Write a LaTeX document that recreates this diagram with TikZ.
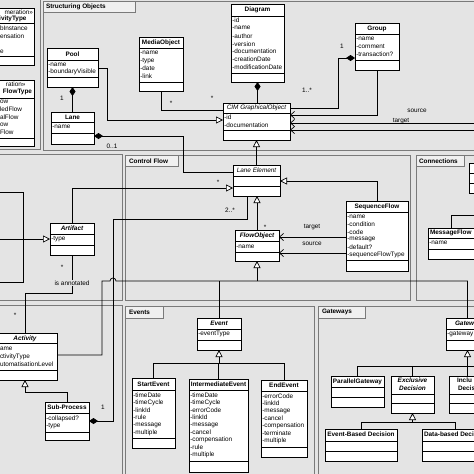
\documentclass[tikz,border=0pt]{standalone}
\usepackage{fontspec}
\setmainfont{Liberation Sans}
\usetikzlibrary{arrows.meta,fit}
\definecolor{bgc}{HTML}{E4E4E4}
\definecolor{pkg}{HTML}{7A7A7A}
\definecolor{tabc}{HTML}{F0F0F0}
\newcommand\cls[5]{\coordinate (#1-nw) at (#2,#3); \coordinate (#1-se) at (#4,#5); \node[clsbox, fit=(#1-nw)(#1-se)] (#1) {};}
\newcommand\hsep[3]{\draw[clsline] (#1,#3) -- (#2,#3);}
\newcommand\attlist[5]{\foreach \t [count=\i] in {#5} {\node[att] (#1-a\i) at (#2,{#3+(\i-1)*#4}) {\t};}}
\begin{document}
\begin{tikzpicture}[x=1pt,y=-1pt,
  every node/.style={inner sep=0pt, outer sep=0pt, font=\fontsize{6.4}{7.6}\selectfont},
  clsbox/.style={draw=black, line width=0.7pt, fill=white, inner sep=0pt},
  clsline/.style={draw=black, line width=0.6pt},
  hdr/.style={font=\fontsize{6.4}{7.6}\selectfont\bfseries},
  ihdr/.style={font=\fontsize{6.4}{7.6}\selectfont\bfseries\itshape},
  rhdr/.style={font=\fontsize{6.4}{7.6}\selectfont\itshape},
  att/.style={anchor=west},
  pkgbox/.style={draw=pkg, line width=1pt},
  tab/.style={draw=pkg, line width=0.8pt, fill=tabc},
  conn/.style={draw=black, line width=0.7pt},
  gen/.style={conn, -{Triangle[open, length=7pt, width=7pt, fill=white]}},
  comp/.style={conn, {Diamond[length=9pt, width=6pt]}-},
  assoc/.style={conn, -{Straight Barb[length=4pt, width=7pt]}},
]
\useasboundingbox (0,0) rectangle (474,474);
\fill[bgc] (0,0) rectangle (474,474);
% packages
\draw[pkgbox] (-5,-5) rectangle (40,149);
\draw[pkgbox] (43,1) rectangle (480,150);
\draw[pkgbox] (-5,154) rectangle (122,300);
\draw[pkgbox] (125,155) rectangle (410,300);
\draw[pkgbox] (416,155) rectangle (480,300);
\draw[pkgbox] (-5,305) rectangle (122,480);
\draw[pkgbox] (125,306) rectangle (314,480);
\draw[pkgbox] (318,306) rectangle (480,480);
% tabs
\draw[tab] (43,1) rectangle (135,12);
\node[hdr, anchor=west] (tSO) at (46,6.8) {Structuring Objects};
\draw[tab] (125,155) rectangle (178,166);
\node[hdr, anchor=west] (tCF) at (129,160.8) {Control Flow};
\draw[tab] (416,155) rectangle (464,166);
\node[hdr, anchor=west] (tCO) at (419,160.8) {Connections};
\draw[tab] (125,306) rectangle (163,318);
\node[hdr, anchor=west] (tEV) at (129,312.3) {Events};
\draw[tab] (318,306) rectangle (365,318);
\node[hdr, anchor=west] (tGW) at (322,312.3) {Gateways};
\draw[conn] (-5,192) rectangle (23,282);

% ---------- connectors ----------
% Structuring objects
\draw[comp] (72.5,87) -- (72.5,112);
\draw[gen] (98,68) -- (107,68) -- (107,120) -- (223,120);
\draw[comp] (94,136) -- (183,136) -- (183,172) -- (233,172);
\draw[conn] (161,91) -- (161,110) -- (223,110);
\draw[comp] (257.5,82) -- (257.5,103);
\draw[gen] (256.5,165) -- (256.5,140);
\draw[comp] (355,58) -- (338,58) -- (338,108) -- (290,108);
\draw[assoc] (377,70) -- (377,115) -- (290,115);
\draw[assoc] (480,123) -- (290,123);
\draw[assoc] (480,130) -- (290,130);
% control flow
\draw[gen] (72,223) -- (72,188) -- (233,188);
\draw[gen] (-5,239) -- (50,239);
\draw[comp] (89,421) -- (113,421) -- (113,219) -- (247,219) -- (247,196);
\draw[gen] (257,230) -- (257,196);
\draw[gen] (377,201) -- (377,181) -- (280,181);
\draw[assoc] (346,237) -- (279,237);
\draw[assoc] (346,253) -- (279,253);
\draw[gen] (257,281) -- (257,261);
\draw[conn] (57,355) -- (102,355) -- (102,281) -- (110,281) arc[start angle=180, end angle=0, radius=3pt] -- (467.5,281) -- (467.5,318);
\draw[conn] (219,318) -- (219,281);
\draw[conn] (72,255) -- (72,293) -- (25,293) -- (25,333);
\draw[conn] (451,228) -- (451,215) -- (480,215);
% activity
\draw[gen] (25,392) -- (25,380);
\draw[conn] (25,392) -- (67,392) -- (67,402);
% events
\draw[gen] (219,363) -- (219,350);
\draw[conn] (153.5,378) -- (153.5,363) -- (284,363) -- (284,380);
\draw[conn] (218.5,363) -- (218.5,379);
% gateways
\draw[gen] (467.5,366) -- (467.5,350);
\draw[conn] (357.5,376) -- (357.5,366) -- (480,366);
\draw[conn] (412.5,366) -- (412.5,376);
\draw[conn] (467.5,366) -- (467.5,376);
\draw[gen] (412.5,422) -- (412.5,413);
\draw[conn] (361,429) -- (361,422) -- (455,422) -- (455,429);

% ---------- labels ----------
\node (m1) at (62,98) {1};
\node (m2) at (112,146) {0..1};
\node (m3) at (171,103) {*};
\node (m4) at (212,98) {*};
\node (m5) at (307,90) {1..*};
\node (m6) at (342,46) {1};
\node (m7) at (417,111) {source};
\node (m8) at (401,121) {target};
\node (m9) at (218,182) {*};
\node (m10) at (230,210) {2..*};
\node (m11) at (312,227) {target};
\node (m12) at (312,244) {source};
\node (m13) at (265,227) {*};
\node (m14) at (62,267) {*};
\node[fill=bgc, inner sep=0.5pt] (m15) at (72,283) {is annotated};
\node (m16) at (15,315) {*};
\node (m17) at (103,407) {1};

% ---------- classes ----------
% enumerations (top left, cut)
\cls{enA}{-10}{8.3}{34}{65}
\hsep{-10}{34}{23.5}\hsep{-10}{34}{56.7}
\node[anchor=east] (enA-s) at (33,12.6) {meration»};
\node[hdr, anchor=east] (enA-h) at (26.5,19.3) {ivityType};
\node[att] (enA-a1) at (0,28.3) {bInstance};
\node[att] (enA-a2) at (0,36) {ensation};
\node[att] (enA-a3) at (0,51.7) {e};
\cls{enB}{-10}{80}{34}{146.7}
\hsep{-10}{34}{98}\hsep{-10}{34}{138}
\node[anchor=east] (enB-s) at (25.5,84.5) {ration»};
\node[hdr, anchor=east] (enB-h) at (32,92.3) {FlowType};
\attlist{enB}{0}{101.7}{7.65}{ow,ledFlow,alFlow,ow,Flow}

% Pool
\cls{pool}{47}{48}{98}{87}
\node[hdr] (pool-h) at (72.5,53.8) {Pool};
\hsep{47}{98}{60}\hsep{47}{98}{77}
\attlist{pool}{48.3}{64.5}{7.6}{-name,-boundaryVisible}
% Lane
\cls{lane}{51}{112}{94}{144}
\node[hdr] (lane-h) at (72.5,117.3) {Lane};
\hsep{51}{94}{122}\hsep{51}{94}{133}
\attlist{lane}{52.3}{127.3}{7.6}{-name}
% MediaObject
\cls{media}{139}{37}{183}{91}
\node[hdr] (media-h) at (161,42.8) {MediaObject};
\hsep{139}{183}{48}\hsep{139}{183}{82}
\attlist{media}{140.3}{53.3}{7.6}{-name,-type,-date,-link}
% Diagram
\cls{diagram}{231}{4}{284}{82}
\node[hdr] (diagram-h) at (257.5,10) {Diagram};
\hsep{231}{284}{16}\hsep{231}{284}{73}
\attlist{diagram}{232.3}{20.5}{7.75}{-id,-name,-author,-version,-documentation,-creationDate,-modificationDate}
% CIM GraphicalObject
\cls{cim}{223}{103}{290}{140}
\node[rhdr] (cim-h) at (256.5,108.3) {CIM GraphicalObject};
\hsep{223}{290}{113}\hsep{223}{290}{130}
\attlist{cim}{224.3}{117.5}{7.6}{-id,-documentation}
% Group
\cls{group}{355}{23}{399}{70}
\node[hdr] (group-h) at (377,28.6) {Group};
\hsep{355}{399}{34}\hsep{355}{399}{60}
\attlist{group}{356.3}{39}{7.6}{-name,-comment,-transaction?}

% Lane Element
\cls{laneel}{233}{165}{280}{196}
\node[rhdr] (laneel-h) at (256.5,170.5) {Lane Element};
\hsep{233}{280}{176.5}\hsep{233}{280}{186.5}
% FlowObject
\cls{flowobj}{235}{230}{279}{261}
\node[ihdr] (flowobj-h) at (257,235.5) {FlowObject};
\hsep{235}{279}{241}\hsep{235}{279}{252}
\attlist{flowobj}{236.3}{246.5}{7.6}{-name}
% SequenceFlow
\cls{seqflow}{346}{201}{408}{271}
\node[hdr] (seqflow-h) at (377,207) {SequenceFlow};
\hsep{346}{408}{212}\hsep{346}{408}{260}
\attlist{seqflow}{347.3}{217}{7.5}{-name,-condition,-code,-message,-default?,-sequenceFlowType}
% Artifact
\cls{artifact}{50}{223}{94}{255}
\node[ihdr] (artifact-h) at (72,228.5) {Artifact};
\hsep{50}{94}{234}\hsep{50}{94}{245}
\attlist{artifact}{51.3}{239}{7.6}{-type}
% Connections
\cls{trbox}{469}{163}{500}{193}
\hsep{469}{500}{173}\hsep{469}{500}{183}
\cls{msgflow}{428}{228}{500}{259}
\node[hdr, anchor=west] (msgflow-h) at (430,232.8) {MessageFlow};
\hsep{428}{500}{237.8}\hsep{428}{500}{249}
\attlist{msgflow}{429.3}{243}{7.6}{-name}

% Activity
\cls{activity}{-30}{333}{57}{380}
\node[ihdr] (activity-h) at (25,338.5) {Activity};
\hsep{-30}{57}{343}\hsep{-30}{57}{370}
\attlist{activity}{0}{349}{7.5}{ame,ctivityType,utomatisationLevel}
% Sub-Process
\cls{subp}{45}{402}{89}{440}
\node[hdr] (subp-h) at (67,407.5) {Sub-Process};
\hsep{45}{89}{413}\hsep{45}{89}{432}
\attlist{subp}{46.3}{418.5}{7.6}{-collapsed?,-type}

% Event
\cls{event}{197}{318}{241}{350}
\node[ihdr] (event-h) at (219,323.5) {Event};
\hsep{197}{241}{329}\hsep{197}{241}{340}
\attlist{event}{198.3}{334.2}{7.6}{-eventType}
% StartEvent
\cls{startev}{132}{378}{175}{448}
\node[hdr] (startev-h) at (153.5,384) {StartEvent};
\hsep{132}{175}{390}\hsep{132}{175}{438}
\attlist{startev}{133.3}{395}{7.5}{-timeDate,-timeCycle,-linkId,-rule,-message,-multiple}
% IntermediateEvent
\cls{interev}{189}{379}{248}{472}
\node[hdr] (interev-h) at (218.5,384.5) {IntermediateEvent};
\hsep{189}{248}{390}\hsep{189}{248}{461}
\attlist{interev}{190.3}{395.2}{7.5}{-timeDate,-timeCycle,-errorCode,-linkId,-message,-cancel,-compensation,-rule,-multiple}
% EndEvent
\cls{endev}{261}{380}{307}{457}
\node[hdr] (endev-h) at (284,385.5) {EndEvent};
\hsep{261}{307}{391}\hsep{261}{307}{447}
\attlist{endev}{262.3}{396}{7.5}{-errorCode,-linkId,-message,-cancel,-compensation,-terminate,-multiple}

% Gateway
\cls{gateway}{446}{318}{489}{350}
\node[ihdr, anchor=west] (gateway-h) at (455,323.5) {Gatew};
\hsep{446}{489}{329}\hsep{446}{489}{340}
\node[att] (gateway-a1) at (447.3,334.2) {-gateway};
% ParallelGateway
\cls{parallel}{331}{376}{384}{407}
\node[hdr] (parallel-h) at (357.5,381.5) {ParallelGateway};
\hsep{331}{384}{387.5}\hsep{331}{384}{397}
% Exclusive Decision
\cls{excl}{391}{376}{434}{413}
\node[ihdr] (excl-h1) at (412.5,380.5) {Exclusive};
\node[ihdr] (excl-h2) at (412.5,388) {Decision};
\hsep{391}{434}{394}\hsep{391}{434}{403}
% Inclusive Decision
\cls{incl}{449}{376}{486}{413}
\node[hdr, anchor=west] (incl-h1) at (457,380.5) {Inclu};
\node[hdr, anchor=west] (incl-h2) at (458,388) {Decis};
\hsep{449}{486}{394}\hsep{449}{486}{403}
% Event-Based Decision
\cls{evbased}{325}{429}{397}{461}
\node[hdr] (evbased-h) at (361,434.5) {Event-Based Decision};
\hsep{325}{397}{441}\hsep{325}{397}{451}
% Data-based Decision
\cls{databased}{422}{429}{488}{461}
\node[hdr, anchor=west] (databased-h) at (424,434.5) {Data-based Deci};
\hsep{422}{488}{441}\hsep{422}{488}{451}
\end{tikzpicture}
\end{document}
